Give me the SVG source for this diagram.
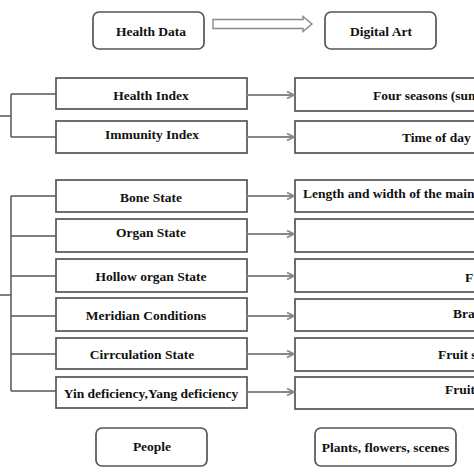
<svg xmlns="http://www.w3.org/2000/svg" width="474" height="474" viewBox="0 0 474 474">
<defs>
<style>
.box{fill:#fff;stroke:#555;stroke-width:1.7}
.t{font-family:"Liberation Serif","Times New Roman",serif;font-weight:bold;font-size:13.5px;fill:#111}
.c{text-anchor:middle}
.br{fill:none;stroke:#555;stroke-width:1.5}
.ar{fill:none;stroke:#888;stroke-width:2}
</style>
<marker id="ah" viewBox="0 0 10 10" refX="9" refY="5" markerWidth="10" markerHeight="10" markerUnits="userSpaceOnUse" orient="auto">
<polyline points="2,1.5 9,5 2,8.5" fill="none" stroke="#888" stroke-width="1.8"/>
</marker>
</defs>
<rect width="474" height="474" fill="#fff"/>
<g id="health-data"><rect class="box" x="93" y="12" width="111" height="37" rx="6"/><text class="t c" x="151" y="36">Health Data</text></g>
<g id="digital-art"><rect class="box" x="325" y="12" width="111" height="37" rx="6"/><text class="t c" x="381" y="36">Digital Art</text></g>
<g id="people"><rect class="box" x="96" y="428" width="111" height="38" rx="6" stroke="#666"/><text class="t c" x="152" y="450.5">People</text></g>
<g id="plants"><rect class="box" x="315" y="428" width="141" height="38" rx="6" stroke="#777"/><text class="t c" x="385.5" y="451.5">Plants, flowers, scenes</text></g>

<g id="health-index"><rect class="box" x="56" y="78" width="191" height="31"/><text class="t c" x="151" y="99.5">Health Index</text></g>
<g id="immunity-index"><rect class="box" x="56" y="121" width="191" height="32"/><text class="t c" x="152" y="138.5">Immunity Index</text></g>
<g id="bone"><rect class="box" x="56" y="180" width="191" height="32"/><text class="t c" x="151" y="201.5">Bone State</text></g>
<g id="organ"><rect class="box" x="56" y="219" width="191" height="33"/><text class="t c" x="151" y="236.5">Organ State</text></g>
<g id="hollow"><rect class="box" x="56" y="259" width="191" height="33"/><text class="t c" x="151" y="280.5">Hollow organ State</text></g>
<g id="meridian"><rect class="box" x="56" y="298" width="191" height="33"/><text class="t c" x="146" y="319.5">Meridian Conditions</text></g>
<g id="circulation"><rect class="box" x="56" y="338" width="191" height="31"/><text class="t c" x="142" y="358.5">Cirrculation State</text></g>
<g id="yin-yang"><rect class="box" x="56" y="377" width="191" height="31"/><text class="t c" x="151" y="397.5">Yin deficiency,Yang deficiency</text></g>

<g id="four-seasons"><rect class="box" x="295" y="78" width="200" height="33"/><text class="t" x="373" y="99.5">Four seasons (sum</text></g>
<g id="time-of-day"><rect class="box" x="295" y="121" width="200" height="32"/><text class="t" x="402" y="141.5">Time of day</text></g>
<g id="length-width"><rect class="box" x="295" y="180" width="200" height="32"/><text class="t" x="303" y="197.5">Length and width of the main</text></g>
<g id="organ-art"><rect class="box" x="295" y="219" width="200" height="33"/></g>
<g id="hollow-art"><rect class="box" x="295" y="259" width="200" height="33"/><text class="t" x="465" y="281.5">F</text></g>
<g id="meridian-art"><rect class="box" x="295" y="299" width="200" height="32"/><text class="t" x="453" y="317.5">Bra</text></g>
<g id="circulation-art"><rect class="box" x="295" y="338" width="200" height="33"/><text class="t" x="438" y="358.5">Fruit s</text></g>
<g id="yin-art"><rect class="box" x="295" y="377" width="200" height="32"/><text class="t" x="445" y="393.5">Fruit</text></g>

<g id="connectors">
<path d="M213,19.5 H303 V16.5 L312,24 L303,31.5 V28.5 H213 Z" fill="#fff" stroke="#888" stroke-width="1.4"/>
<path class="br" d="M0,116 H11 M11,94 V137 M11,94 H56 M11,137 H56"/>
<path class="br" d="M0,295 H11 M11,196 V391 M11,196 H56 M11,236 H56 M11,276 H56 M11,316 H56 M11,354 H56 M11,391 H56"/>
<line class="ar" x1="247" y1="95" x2="294" y2="95" marker-end="url(#ah)"/>
<line class="ar" x1="247" y1="137" x2="294" y2="137" marker-end="url(#ah)"/>
<line class="ar" x1="247" y1="196" x2="294" y2="196" marker-end="url(#ah)"/>
<line class="ar" x1="247" y1="234" x2="294" y2="234" marker-end="url(#ah)"/>
<line class="ar" x1="247" y1="276" x2="294" y2="276" marker-end="url(#ah)"/>
<line class="ar" x1="247" y1="316" x2="294" y2="316" marker-end="url(#ah)"/>
<line class="ar" x1="247" y1="354" x2="294" y2="354" marker-end="url(#ah)"/>
<line class="ar" x1="247" y1="392" x2="294" y2="392" marker-end="url(#ah)"/>
</g>
</svg>
